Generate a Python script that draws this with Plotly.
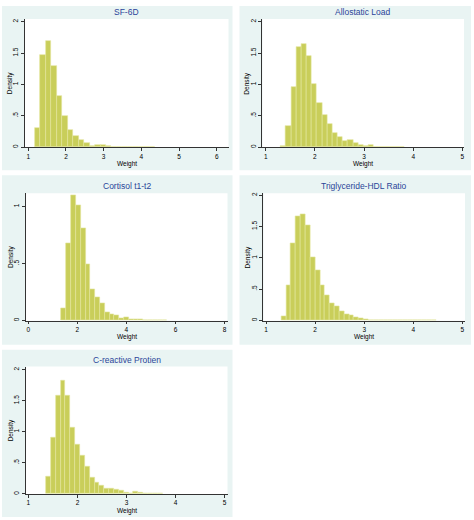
import plotly.graph_objects as go

# ---------------- data (histogram densities) ----------------
titles = ["SF-6D", "Allostatic Load", "Cortisol t1-t2", "Triglyceride-HDL Ratio", "C-reactive Protien"]

sf6d_start = 1.176
sf6d_width = 0.145
sf6d_density = [0.30, 1.47, 1.69, 1.29, 0.82, 0.50, 0.27, 0.175, 0.117, 0.064, 0.027, 0.04,
                0.035, 0.016, 0.01, 0.008, 0.006, 0.004, 0.003, 0.003, 0.002, 0.002]

allo_start = 1.305
allo_width = 0.105
allo_density = [0.02, 0.34, 0.955, 1.59, 1.645, 1.45, 1.0, 0.71, 0.52, 0.366, 0.22, 0.16,
                0.106, 0.117, 0.064, 0.04, 0.015, 0.037, 0.01, 0.008, 0.006, 0.004, 0.003, 0.002]

cort_start = 1.353
cort_width = 0.196
cort_density = [0.104, 0.675, 1.096, 1.009, 0.806, 0.493, 0.27, 0.206, 0.148, 0.072, 0.058,
                0.046, 0.017, 0.026, 0.01, 0.008, 0.006, 0.005, 0.004, 0.005, 0.003, 0.002]

trig_start = 1.305
trig_width = 0.099
trig_density = [0.07, 0.56, 1.24, 1.66, 1.69, 1.52, 1.01, 0.80, 0.56, 0.40, 0.28, 0.22, 0.15,
                0.095, 0.08, 0.048, 0.037, 0.015, 0.01, 0.008, 0.006, 0.005, 0.003, 0.002,
                0.0, 0.0, 0.0, 0.0, 0.0, 0.0, 0.0, 0.01]

crp_start = 1.359
crp_width = 0.099
crp_density = [0.27, 0.91, 1.59, 1.83, 1.59, 1.064, 0.787, 0.622, 0.44, 0.255, 0.18, 0.133,
               0.09, 0.08, 0.064, 0.048, 0.027, 0.01, 0.037, 0.027, 0.01, 0.006, 0.004, 0.003]

x_ticks_a = [1, 2, 3, 4, 5, 6]
x_ticks_b = [1, 2, 3, 4, 5]
x_ticks_c = [0, 2, 4, 6, 8]
y_ticks_full = [0, 0.5, 1, 1.5, 2]
y_ticks_short = [0, 0.5, 1]
y_tick_text = ["0", ".5", "1", "1.5", "2"]

# ---------------- layout geometry (pixels) ----------------
W, H = 474, 520
# panel background boxes: x0, x1, y0, y1
panels = [(2, 233, 5, 170), (240, 472, 5, 170),
          (2, 233, 175, 345), (240, 472, 175, 345),
          (2, 233, 350, 518)]
# plot boxes: left, right, top, bottom
boxes = [(25, 229, 18, 147), (263, 465, 18, 147),
         (26, 228, 193, 321), (264, 466, 193, 321),
         (26, 228, 367, 495)]
xranges = [(0.913, 6.31), (0.933, 5.034), (-0.093, 8.12), (0.945, 5.055), (0.95, 5.06)]
yranges = [(-0.005, 2.043), (-0.005, 2.043), (-0.003, 1.116), (-0.005, 2.03), (-0.005, 2.05)]
xticks = [x_ticks_a, x_ticks_b, x_ticks_c, x_ticks_b, x_ticks_b]
yticks = [y_ticks_full, y_ticks_full, y_ticks_short, y_ticks_full, y_ticks_full]

series = [(sf6d_start, sf6d_width, sf6d_density),
          (allo_start, allo_width, allo_density),
          (cort_start, cort_width, cort_density),
          (trig_start, trig_width, trig_density),
          (crp_start, crp_width, crp_density)]

FONT = "Liberation Sans, Arial, sans-serif"
BAR = "#C9CE5A"
BAR_EDGE = "#E2E59E"
PANEL_BG = "#E9F4F3"
AXIS = "#333333"
TITLE_C = "#2A4599"

fig = go.Figure()
layout = dict(width=W, height=H, margin=dict(l=0, r=0, t=0, b=0), autosize=False,
              paper_bgcolor="white", plot_bgcolor="rgba(0,0,0,0)", showlegend=False,
              font=dict(family=FONT, color="black"), shapes=[], annotations=[], bargap=0)

for i in range(5):
    n = i + 1
    start, width, dens = series[i]
    centers = [start + (k + 0.5) * width for k in range(len(dens))]
    xa = "x" if n == 1 else f"x{n}"
    ya = "y" if n == 1 else f"y{n}"
    fig.add_trace(go.Bar(x=centers, y=dens, width=width, xaxis=xa, yaxis=ya,
                         marker=dict(color=BAR, line=dict(color=BAR_EDGE, width=0.6)),
                         hoverinfo="skip"))

    L, R, T, B = boxes[i]
    px0, px1, py0, py1 = panels[i]
    layout["shapes"].append(dict(type="rect", xref="paper", yref="paper", layer="below",
                                 x0=px0 / W, x1=px1 / W, y0=1 - py1 / H, y1=1 - py0 / H,
                                 fillcolor=PANEL_BG, line=dict(width=0)))
    layout["shapes"].append(dict(type="rect", xref="paper", yref="paper", layer="below",
                                 x0=L / W, x1=R / W, y0=1 - B / H, y1=1 - T / H,
                                 fillcolor="white", line=dict(width=0)))

    axname = "xaxis" if n == 1 else f"xaxis{n}"
    ayname = "yaxis" if n == 1 else f"yaxis{n}"
    layout[axname] = dict(domain=[L / W, R / W], range=list(xranges[i]), anchor=ya,
                          showline=True, linecolor=AXIS, linewidth=1, ticks="outside",
                          ticklen=2.5, tickcolor=AXIS, tickwidth=1,
                          tickvals=xticks[i], ticktext=[str(v) for v in xticks[i]],
                          tickfont=dict(size=6.5, family=FONT, color="black"),
                          showgrid=False, zeroline=False, fixedrange=True)
    ytv = yticks[i]
    layout[ayname] = dict(domain=[1 - B / H, 1 - T / H], range=list(yranges[i]), anchor=xa,
                          showline=True, linecolor=AXIS, linewidth=1, ticks="outside",
                          ticklen=3, tickcolor=AXIS, tickwidth=1, tickangle=-90,
                          tickvals=ytv, ticktext=y_tick_text[:len(ytv)],
                          tickfont=dict(size=6.5, family=FONT, color="black"),
                          showgrid=False, zeroline=False, fixedrange=True)

    cx = (L + R) / 2
    layout["annotations"].append(dict(text=titles[i], xref="paper", yref="paper",
                                      x=cx / W, y=1 - (T - 7) / H, xanchor="center",
                                      yanchor="middle", showarrow=False,
                                      font=dict(size=8.5, family=FONT, color=TITLE_C)))
    layout["annotations"].append(dict(text="Weight", xref="paper", yref="paper",
                                      x=cx / W, y=1 - (B + 16.5) / H, xanchor="center",
                                      yanchor="middle", showarrow=False,
                                      font=dict(size=6.5, family=FONT, color="black")))
    layout["annotations"].append(dict(text="Density", xref="paper", yref="paper",
                                      x=(L - 15) / W, y=1 - ((T + B) / 2) / H, xanchor="center",
                                      yanchor="middle", showarrow=False, textangle=-90,
                                      font=dict(size=6.5, family=FONT, color="black")))

fig.update_layout(**layout)
fig.write_html("out.html")
